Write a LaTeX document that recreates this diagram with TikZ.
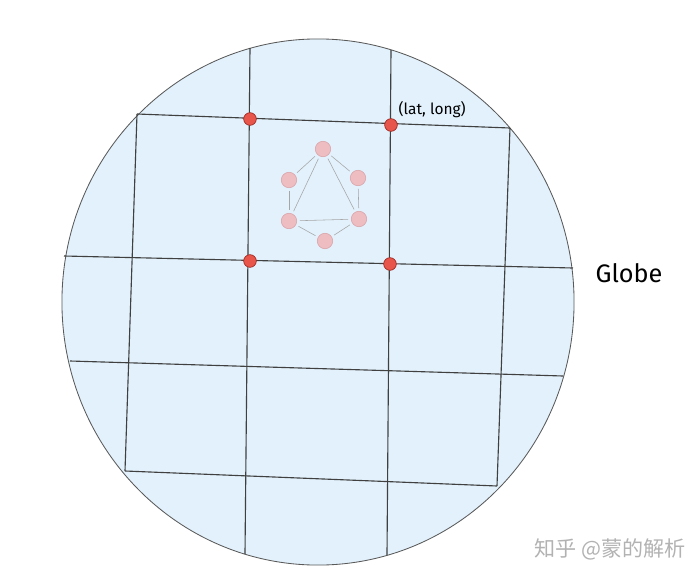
\documentclass[tikz,border=0pt]{standalone}
\usepackage{fontspec}
\newfontfamily\hand{Fira Sans}
\newfontfamily\cjk{Noto Sans CJK SC}
\usetikzlibrary{positioning}
\definecolor{globefill}{HTML}{E2F1FC}
\definecolor{pinred}{HTML}{E8554B}
\definecolor{pindark}{HTML}{9E2A22}
\definecolor{gqlfill}{HTML}{EDBDC1}
\definecolor{gqldark}{HTML}{D9A3A8}

\begin{document}
\begin{tikzpicture}[x=0.025cm,y=-0.025cm,
  grid/.style={draw=black!75,line width=0.8pt},
  pin/.style={draw=pindark,fill=pinred,circle,minimum size=9pt,inner sep=0pt,line width=0.5pt},
  gql/.style={draw=gqldark,fill=gqlfill,circle,minimum size=11pt,inner sep=0pt,line width=0.4pt},
  link/.style={draw=black!35,line width=0.4pt,shorten <=2pt,shorten >=2pt}]
  \useasboundingbox (0,0) rectangle (700,580);

  % globe
  \draw[black!65,line width=0.6pt,fill=globefill] (318,302) ellipse [x radius=6.4cm,y radius=6.575cm];

  % grid ends
  \coordinate (v1t) at (137,114); \coordinate (v1b) at (125,471);
  \coordinate (v2t) at (250,48);  \coordinate (v2b) at (245,554);
  \coordinate (v3t) at (391,50);  \coordinate (v3b) at (387,555);
  \coordinate (v4t) at (510,128); \coordinate (v4b) at (497,486);
  \coordinate (h2l) at (64,256);  \coordinate (h2r) at (573,268);
  \coordinate (h3l) at (70,361);  \coordinate (h3r) at (563,376);

  \draw[grid] (v1t) -- (v4t);
  \draw[grid] (v1b) -- (v4b);
  \draw[grid] (v1t) -- (v1b);
  \draw[grid] (v4t) -- (v4b);
  \draw[grid] (v2t) -- (v2b);
  \draw[grid] (v3t) -- (v3b);
  \draw[grid] (h2l) -- (h2r);
  \draw[grid] (h3l) -- (h3r);

  % corners of the cell
  \node[pin] (nw) at (250,119) {};
  \node[pin,label={[font=\hand\fontsize{11}{13}\selectfont,label distance=-2pt]above right:(lat, long)}] (ne) at (391,125) {};
  \node[pin] (sw) at (250,261) {};
  \node[pin] (se) at (390,264) {};

  % graph in the cell
  \node[gql] (g1) at (323,149) {};
  \node[gql] (g2) at (289,180) {};
  \node[gql] (g3) at (358,178) {};
  \node[gql] (g4) at (289,221) {};
  \node[gql] (g5) at (359,219) {};
  \node[gql] (g6) at (325,241) {};
  \draw[link] (g1) -- (g2);
  \draw[link] (g1) -- (g3);
  \draw[link] (g2) -- (g4);
  \draw[link] (g3) -- (g5);
  \draw[link] (g4) -- (g6);
  \draw[link] (g5) -- (g6);
  \draw[link] (g1) -- (g4);
  \draw[link] (g1) -- (g5);
  \draw[link] (g4) -- (g5);

  \node[font=\hand\fontsize{18}{21}\selectfont] (globe) at (629,273) {Globe};
  \node[font=\cjk\fontsize{15}{18}\selectfont,text=black!30] (mark) at (610,549) {知乎 @蒙的解析};
\end{tikzpicture}
\end{document}
